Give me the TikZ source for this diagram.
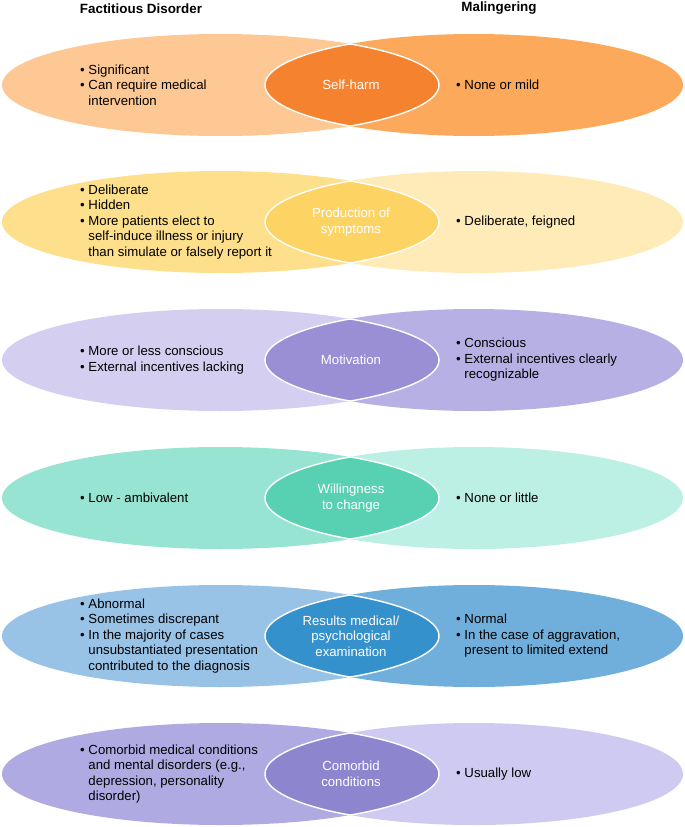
\documentclass[tikz,border=0pt]{standalone}
\usepackage{fontspec}
\setmainfont{Liberation Sans}
\definecolor{oL}{HTML}{FDC893}\definecolor{oR}{HTML}{FCA95B}\definecolor{oC}{HTML}{F5822F}
\definecolor{yL}{HTML}{FDDF8C}\definecolor{yR}{HTML}{FEEBB8}\definecolor{yC}{HTML}{FDD363}
\definecolor{pL}{HTML}{D4CFF0}\definecolor{pR}{HTML}{B7B0E4}\definecolor{pC}{HTML}{9A8FD5}
\definecolor{gL}{HTML}{98E4D3}\definecolor{gR}{HTML}{BDF0E4}\definecolor{gC}{HTML}{58D1B3}
\definecolor{bL}{HTML}{98C3E7}\definecolor{bR}{HTML}{70AFDC}\definecolor{bC}{HTML}{3591CB}
\definecolor{vL}{HTML}{B0AAE3}\definecolor{vR}{HTML}{CFCAF1}\definecolor{vC}{HTML}{8E85CF}
\newcommand\vennrow[4]{%
  \fill[#2] (220.5,#1) ellipse [x radius=218.5pt, y radius=51pt];
  \fill[#3] (474,#1) ellipse [x radius=209pt, y radius=51pt];
  \begin{scope}
    \clip (220.5,#1) ellipse [x radius=218.5pt, y radius=51pt];
    \fill[#4] (474,#1) ellipse [x radius=209pt, y radius=51pt];
    \draw[white, line width=1.4pt] (474,#1) ellipse [x radius=209pt, y radius=51pt];
  \end{scope}
  \begin{scope}
    \clip (474,#1) ellipse [x radius=209pt, y radius=51pt];
    \draw[white, line width=1.4pt] (220.5,#1) ellipse [x radius=218.5pt, y radius=51pt];
  \end{scope}}
\newcommand\bi{\textbullet\ }
\newcommand\bs{\hphantom{\textbullet\ }}
\begin{document}
\begin{tikzpicture}[x=1pt,y=-1pt,
  txt/.style={inner sep=0pt, anchor=west, align=left, font=\fontsize{13.2}{15.5}\selectfont, text=black},
  lens/.style={inner sep=0pt, align=center, font=\fontsize{13.2}{15.5}\selectfont, text=white},
  head/.style={inner sep=0pt, font=\fontsize{13.4}{15}\selectfont\bfseries}]
\useasboundingbox (0,0) rectangle (685,827);
\node[head] (h1) at (141,8.5) {Factitious Disorder};
\node[head] (h2) at (499,8.5) {Malingering};
% row 1
\vennrow{85}{oL}{oR}{oC}
\node[lens] (c1) at (351,85) {Self-harm};
\node[txt] (a1) at (80,85) {\bi Significant\\\bi Can require medical\\\bs intervention};
\node[txt] (b1) at (456,85) {\bi None or mild};
% row 2
\vennrow{222}{yL}{yR}{yC}
\node[lens] (c2) at (351,222) {Production of\\symptoms};
\node[txt] (a2) at (80,222) {\bi Deliberate\\\bi Hidden\\\bi More patients elect to\\\bs self-induce illness or injury\\\bs than simulate or falsely report it};
\node[txt] (b2) at (456,222) {\bi Deliberate, feigned};
% row 3
\vennrow{360}{pL}{pR}{pC}
\node[lens] (c3) at (351,360) {Motivation};
\node[txt] (a3) at (80,360) {\bi More or less conscious\\\bi External incentives lacking};
\node[txt] (b3) at (456,360) {\bi Conscious\\\bi External incentives clearly\\\bs recognizable};
% row 4
\vennrow{498}{gL}{gR}{gC}
\node[lens] (c4) at (351,498) {Willingness\\to change};
\node[txt] (a4) at (80,498) {\bi Low - ambivalent};
\node[txt] (b4) at (456,498) {\bi None or little};
% row 5
\vennrow{636}{bL}{bR}{bC}
\node[lens] (c5) at (351,636) {Results medical/\\psychological\\examination};
\node[txt] (a5) at (80,636) {\bi Abnormal\\\bi Sometimes discrepant\\\bi In the majority of cases\\\bs unsubstantiated presentation\\\bs contributed to the diagnosis};
\node[txt] (b5) at (456,636) {\bi Normal\\\bi In the case of aggravation,\\\bs present to limited extend};
% row 6
\vennrow{774}{vL}{vR}{vC}
\node[lens] (c6) at (351,774) {Comorbid\\conditions};
\node[txt] (a6) at (80,774) {\bi Comorbid medical conditions\\\bs and mental disorders (e.g.,\\\bs depression, personality\\\bs disorder)};
\node[txt] (b6) at (456,774) {\bi Usually low};
\end{tikzpicture}
\end{document}
